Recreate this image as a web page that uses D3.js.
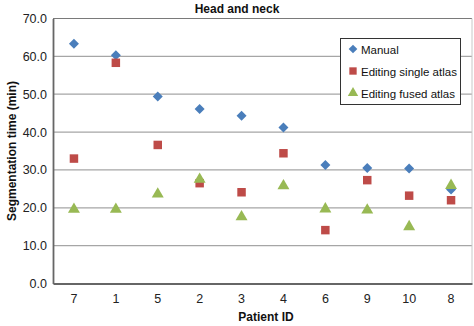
<!DOCTYPE html>
<html><head><meta charset="utf-8">
<script src="https://cdn.jsdelivr.net/npm/d3@7"></script>
<style>
body{margin:0;background:#fff;}
text{font-family:"Liberation Sans",Arial,sans-serif;}
</style></head>
<body>
<svg id="chart" width="474" height="326"></svg>
<script>
const categories = ["7","1","5","2","3","4","6","9","10","8"];
const manual = [63.3,60.3,49.4,46.1,44.3,41.2,31.3,30.5,30.4,24.8];
const single = [33.0,58.3,36.6,26.5,24.1,34.4,14.1,27.3,23.2,22.0];
const fused = [19.6,19.6,23.6,27.5,17.6,25.8,19.7,19.4,15.0,25.9];
const yTicks = [0,10,20,30,40,50,60,70];
const seriesNames = ["Manual","Editing single atlas","Editing fused atlas"];
const colors = ["#4a7ebb","#be4b48","#98b954"];

const svg = d3.select("#chart");
const L=53, R=472, T=18.5, B=283.5;
const x = d3.scaleBand().domain(categories).range([L,R]);
const y = d3.scaleLinear().domain([0,70]).range([B,T]);

// gridlines
svg.append("g").selectAll("line").data(yTicks.filter(d=>d>0&&d<70)).join("line")
  .attr("x1",L).attr("x2",R).attr("y1",d=>y(d)).attr("y2",d=>y(d))
  .attr("stroke","#a6a6a6").attr("stroke-width",1.2);
// top & right border
svg.append("line").attr("x1",L).attr("x2",R).attr("y1",T).attr("y2",T).attr("stroke","#7a7a7a").attr("stroke-width",1.2);
svg.append("line").attr("x1",R).attr("x2",R).attr("y1",T).attr("y2",B).attr("stroke","#c8c8c8").attr("stroke-width",1);

// axes
const yAxis = d3.axisLeft(y).tickValues(yTicks).tickFormat(d3.format(".1f")).tickSize(0).tickPadding(6);
const gy = svg.append("g").attr("transform",`translate(${L},0)`).call(yAxis);
gy.select(".domain").attr("stroke","#666").attr("stroke-width",1.8);
gy.selectAll("text").attr("font-size",12.5).attr("fill","#222").attr("font-family","Liberation Sans, Arial, sans-serif");

const xAxis = d3.axisBottom(x).tickSize(0).tickPadding(11);
const gx = svg.append("g").attr("transform",`translate(0,${B})`).call(xAxis);
gx.select(".domain").attr("stroke","#666").attr("stroke-width",1.8);
gx.selectAll("text").attr("font-size",12.5).attr("fill","#222").attr("font-family","Liberation Sans, Arial, sans-serif");

// markers
const sym = [d3.symbolSquare, d3.symbolSquare, d3.symbolTriangle];
const rot = [45, 0, 0];
const sizes = [50, 72, 62];
const data = [manual, single, fused];
data.forEach((vals,i)=>{
  svg.append("g").selectAll("path").data(vals).join("path")
    .attr("d", d3.symbol().type(sym[i]).size(sizes[i]))
    .attr("transform",(d,j)=>`translate(${x(categories[j])+x.bandwidth()/2},${y(d)}) rotate(${rot[i]})`)
    .attr("fill",colors[i]);
});

// title
svg.append("text").attr("x",237).attr("y",13).attr("text-anchor","middle")
  .attr("font-size",12).attr("font-weight","bold").attr("fill","#111").text("Head and neck");
// axis titles
svg.append("text").attr("x",266).attr("y",321).attr("text-anchor","middle")
  .attr("font-size",12).attr("font-weight","bold").attr("fill","#111").text("Patient ID");
svg.append("text").attr("transform",`translate(16,${(T+B)/2}) rotate(-90)`).attr("text-anchor","middle")
  .attr("font-size",12).attr("font-weight","bold").attr("fill","#111").text("Segmentation time (min)");

// legend
const lg = svg.append("g");
lg.append("rect").attr("x",340.5).attr("y",38.5).attr("width",120).attr("height",66)
  .attr("fill","#fff").attr("stroke","#333").attr("stroke-width",1);
seriesNames.forEach((n,i)=>{
  const cy = 49 + i*22;
  lg.append("path").attr("d",d3.symbol().type(sym[i]).size(sizes[i]*0.75))
    .attr("transform",`translate(353,${cy}) rotate(${rot[i]})`).attr("fill",colors[i]);
  lg.append("text").attr("x",361).attr("y",cy+4.5).attr("font-size",11.5).attr("fill","#111")
    .attr("textLength", i===0?null:null).text(n);
});
</script>
</body></html>
